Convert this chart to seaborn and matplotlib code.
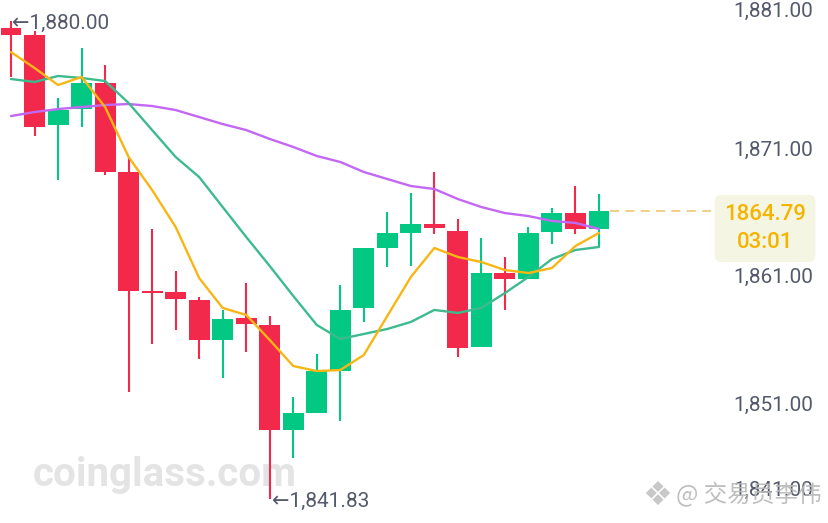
import numpy as np
import pandas as pd
import matplotlib
matplotlib.use("Agg")
import matplotlib.pyplot as plt
import seaborn as sns

# OHLC candles
opens = [1879.44, 1878.88, 1871.69, 1872.97, 1875.05, 1867.94, 1858.43, 1858.35, 1857.72,
         1854.52, 1856.28, 1855.72, 1847.33, 1848.69, 1852.04, 1857.08, 1861.87, 1863.07,
         1863.79, 1863.23, 1853.96, 1859.87, 1859.39, 1863.15, 1864.66, 1863.39]
highs = [1880.00, 1879.20, 1873.85, 1877.84, 1876.49, 1869.06, 1863.39, 1860.03, 1857.96,
         1856.92, 1859.07, 1856.44, 1849.97, 1853.40, 1858.91, 1861.87, 1864.74, 1866.26,
         1867.94, 1864.19, 1862.67, 1861.15, 1863.55, 1865.06, 1866.82, 1866.18]
lows = [1875.53, 1870.81, 1867.30, 1871.53, 1867.70, 1850.37, 1854.20, 1855.32, 1853.00,
        1851.49, 1853.56, 1841.83, 1845.10, 1848.69, 1848.05, 1855.96, 1860.35, 1860.43,
        1862.99, 1853.16, 1853.96, 1856.92, 1859.39, 1862.19, 1862.99, 1861.95]
closes = [1878.88, 1871.53, 1872.89, 1875.05, 1867.94, 1858.43, 1858.27, 1857.80, 1854.52,
          1856.20, 1855.80, 1847.33, 1848.69, 1852.04, 1856.92, 1861.87, 1863.07, 1863.79,
          1863.47, 1853.88, 1859.87, 1859.39, 1863.07, 1864.66, 1863.39, 1864.79]

# moving averages
ma_fast = [1877.52, 1876.25, 1874.89, 1875.53, 1873.13, 1869.14, 1866.50, 1863.55, 1859.47,
           1857.08, 1856.52, 1854.52, 1852.44, 1852.04, 1852.12, 1853.32, 1856.44, 1859.55,
           1861.87, 1861.15, 1860.75, 1860.11, 1859.87, 1860.27, 1862.03, 1863.07]
ma_mid = [1875.37, 1875.13, 1875.61, 1875.45, 1875.21, 1873.45, 1871.29, 1869.14, 1867.54,
          1865.14, 1862.75, 1860.43, 1858.04, 1855.72, 1854.60, 1855.00, 1855.40, 1855.96,
          1856.92, 1856.68, 1857.08, 1858.27, 1859.55, 1860.99, 1861.71, 1861.95]
ma_slow = [1872.41, 1872.73, 1872.97, 1873.13, 1873.29, 1873.37, 1873.21, 1872.89, 1872.33,
           1871.77, 1871.29, 1870.58, 1869.94, 1869.22, 1868.74, 1867.94, 1867.38, 1866.82,
           1866.58, 1865.78, 1865.14, 1864.66, 1864.42, 1864.03, 1863.87, 1863.39]

axis_prices = [1881, 1871, 1861, 1851, 1841]
axis_labels = ["1,881.00", "1,871.00", "1,861.00", "1,851.00", "1,841.00"]
last_price = 1864.79
countdown = "03:01"

RED = "#F2294B"
GREEN = "#03C883"
TEXT = "#545a6c"

sns.set_theme(style="white")
plt.rcParams["font.family"] = ["Roboto", "DejaVu Sans"]

df = pd.DataFrame({"idx": np.arange(len(opens)), "open": opens, "high": highs,
                   "low": lows, "close": closes, "fast": ma_fast, "mid": ma_mid, "slow": ma_slow})
df["color"] = np.where(df["close"] >= df["open"], GREEN, RED)

fig = plt.figure(figsize=(8.29, 5.23), dpi=100)
ax = fig.add_axes([0, 0, 1, 1])

# candles
ax.vlines(df["idx"], df["low"], df["high"], colors=df["color"], linewidth=1.5, zorder=2)
body_low = df[["open", "close"]].min(axis=1)
body_h = (df["close"] - df["open"]).abs().clip(lower=0.15)
ax.bar(df["idx"], body_h, bottom=body_low, width=0.89, color=df["color"], linewidth=0, zorder=3)

# moving averages
sns.lineplot(data=df, x="idx", y="slow", color="#C368F5", linewidth=1.7, ax=ax, zorder=4)
sns.lineplot(data=df, x="idx", y="mid", color="#3DBB8E", linewidth=1.7, ax=ax, zorder=4)
sns.lineplot(data=df, x="idx", y="fast", color="#F7B614", linewidth=1.7, ax=ax, zorder=5)

ax.set_xlim(-0.468, 34.78)
ax.set_ylim(1839.90, 1881.68)
ax.axis("off")

# last price line and box
ax.plot([25.45, 29.85], [last_price, last_price], color="#F1CB7E", linewidth=1.3,
        linestyle=(0, (5, 3.5)), zorder=2)
ax.annotate(f"{last_price:.2f}\n{countdown}", xy=(1, last_price), xycoords=("axes fraction", "data"),
            xytext=(-64, -17), textcoords="offset pixels", ha="center", va="center",
            fontsize=16, fontweight="medium", color="#F5B400", linespacing=1.4, zorder=6,
            bbox=dict(boxstyle="round,pad=0.42,rounding_size=0.3", facecolor="#F5F5E3", edgecolor="none"))

# watermark
ax.annotate("coinglass.com", xy=(0.04, 0.092), xycoords="axes fraction", ha="left", va="center",
            fontsize=29, fontweight="bold", color="#E4E4E4", zorder=1)

# price scale labels
label_shift_px = [2.5, 16.3, 18.1, 20.9, -19.3]
for p, lab, dy in zip(axis_prices, axis_labels, label_shift_px):
    ax.annotate(lab, xy=(1, p), xycoords=("axes fraction", "data"), xytext=(-16, -dy),
                textcoords="offset pixels", ha="right", va="center", fontsize=15, color=TEXT, zorder=1)

# high / low markers
hi_i = int(np.argmax(highs))
lo_i = int(np.argmin(lows))
ax.annotate(f"\u2190{highs[hi_i]:,.2f}", xy=(hi_i, highs[hi_i]), xytext=(1, -2), textcoords="offset pixels",
            ha="left", va="center", fontsize=15, color=TEXT, zorder=6)
ax.annotate(f"\u2190{lows[lo_i]:,.2f}", xy=(lo_i, lows[lo_i]), xytext=(2, -3), textcoords="offset pixels",
            ha="left", va="center", fontsize=15, color=TEXT, zorder=6)

# author watermark
ax.annotate("\u2756", xy=(657 / 829, 1 - 495 / 523), xycoords="axes fraction", ha="center", va="center",
            fontsize=24, color="#C8C8C8", family=["DejaVu Sans"], zorder=7)
ax.annotate("@ 交易员李伟", xy=(676 / 829, 1 - 495 / 523), xycoords="axes fraction", ha="left", va="center",
            fontsize=17, color="#B8B8B8", alpha=0.9, family=["Noto Sans CJK SC", "DejaVu Sans"], zorder=7)

fig.savefig("out.png", dpi=100, facecolor="white")
